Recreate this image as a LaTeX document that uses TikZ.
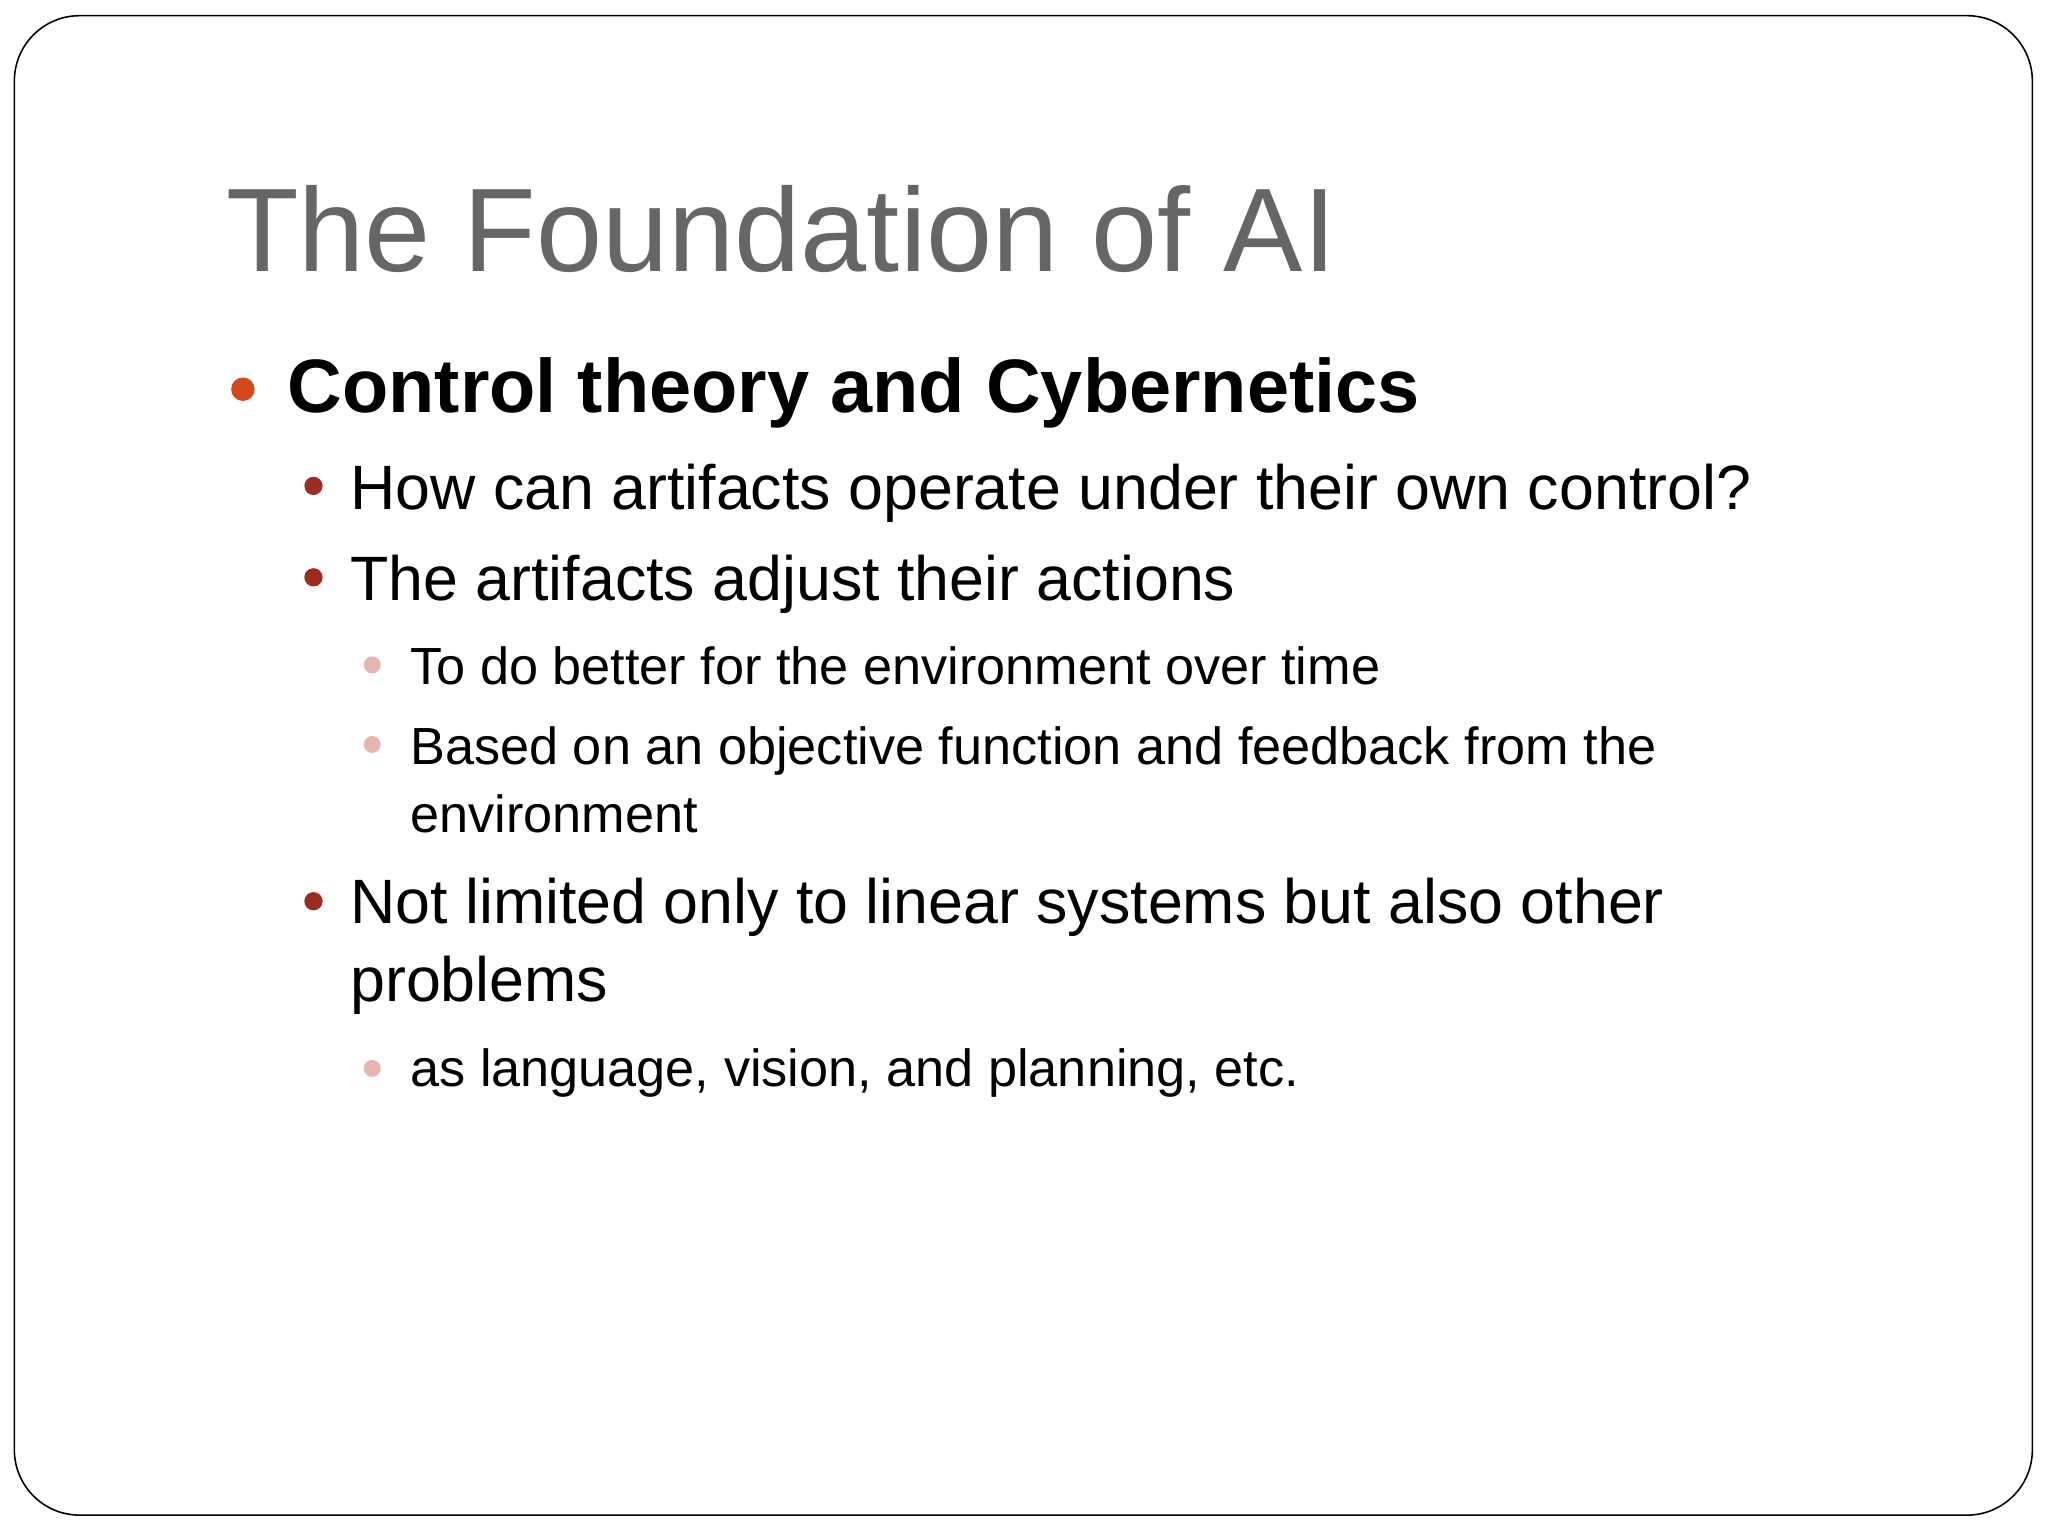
\documentclass[tikz,border=0pt]{standalone}
\usepackage{fontspec}
\setmainfont{Liberation Sans}
\begin{document}
\begin{tikzpicture}[x=1pt,y=-1pt,
  txt/.style={anchor=base west,inner sep=0pt,text=black},
  lvlone/.style={circle,fill=orange!80!red!90!black,inner sep=0pt,minimum size=18pt},
  lvltwo/.style={circle,fill={rgb,255:red,158;green,43;blue,32},inner sep=0pt,minimum size=14pt},
  lvlthree/.style={circle,fill={rgb,255:red,232;green,180;blue,176},inner sep=0pt,minimum size=13pt}]
\useasboundingbox (0,0) rectangle (1568,1176);
\fill[white] (0,0) rectangle (1568,1176);
\draw[line width=1.2pt,rounded corners=50pt] (11,12) rectangle (1556,1160);
\node[txt,text={rgb,255:red,102;green,102;blue,102},font=\fontsize{91}{100}\selectfont] (title) at (173,208) {The Foundation of AI};
\node[lvlone,fill={rgb,255:red,210;green,74;blue,26}] (b1) at (186,298) {};
\node[txt,font=\fontsize{58}{66}\selectfont\bfseries] (t1) at (220,316) {Control theory and Cybernetics};
\node[lvltwo] (b2) at (240,372) {};
\node[txt,font=\fontsize{48}{56}\selectfont] (t2) at (268,390) {How can artifacts operate under their own control?};
\node[lvltwo] (b3) at (240,442) {};
\node[txt,font=\fontsize{48}{56}\selectfont] (t3) at (268,460) {The artifacts adjust their actions};
\node[lvlthree] (b4) at (285,509) {};
\node[txt,font=\fontsize{40}{48}\selectfont] (t4) at (314,524) {To do better for the environment over time};
\node[lvlthree] (b5) at (285,570) {};
\node[txt,font=\fontsize{40}{48}\selectfont] (t5) at (314,585) {Based on an objective function and feedback from the};
\node[txt,font=\fontsize{40}{48}\selectfont] (t5b) at (314,637) {environment};
\node[lvltwo] (b6) at (240,690) {};
\node[txt,font=\fontsize{48}{56}\selectfont] (t6) at (268,707) {Not limited only to linear systems but also other};
\node[txt,font=\fontsize{48}{56}\selectfont] (t6b) at (268,767) {problems};
\node[lvlthree] (b7) at (285,818) {};
\node[txt,font=\fontsize{40}{48}\selectfont] (t7) at (314,832) {as language, vision, and planning, etc.};
\end{tikzpicture}
\end{document}
